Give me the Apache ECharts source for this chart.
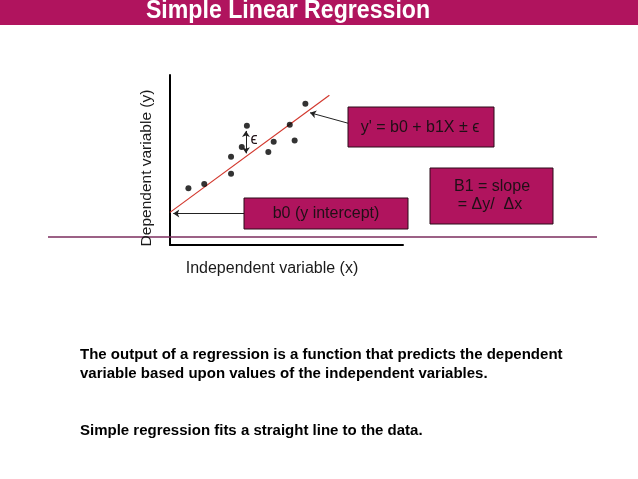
<!DOCTYPE html>
<html>
<head>
<meta charset="utf-8">
<script src="https://cdn.jsdelivr.net/npm/echarts@6/dist/echarts.min.js"></script>
<style>
html,body{margin:0;padding:0;background:#fff;}
#main{width:638px;height:479px;}
</style>
</head>
<body>
<div id="main"></div>
<script>
// Observations (arbitrary units, axis 0..10)
const pointsX = [0.79, 1.47, 2.62, 2.62, 3.08, 3.30, 4.22, 4.45, 5.14, 5.35, 5.81];
const pointsY = [3.34, 3.59, 5.19, 4.19, 5.76, 7.02, 5.47, 6.08, 7.08, 6.14, 8.31];
// Regression line endpoints
const lineX = [0.0, 6.84];
const lineY = [1.92, 8.81];
// Residual (epsilon) arrow
const epsX = 3.26;
const epsY = [6.71, 5.39];
// Annotation arrows [from, to]
const arrowB0 = [[3.22, 1.86], [0.14, 1.86]];
const arrowEq = [[7.65, 7.16], [6.01, 7.78]];

const MAGENTA = '#B0145E';
const FONT = '"Liberation Sans", Arial, Helvetica, sans-serif';

const chart = echarts.init(document.getElementById('main'), null, {renderer: 'canvas'});

const scatterData = pointsX.map((x, i) => [x, pointsY[i]]);
const lineData = lineX.map((x, i) => [x, lineY[i]]);

const axisCommon = {
  type: 'value', min: 0, max: 10,
  axisLine: {show: true, lineStyle: {color: '#000', width: 2}},
  axisTick: {show: false}, axisLabel: {show: false}, splitLine: {show: false}
};

function box(x, y, w, h) {
  return {type: 'rect', z: 10, shape: {x: x, y: y, width: w, height: h},
    style: {fill: MAGENTA, stroke: '#2a0a18', lineWidth: 1}};
}
function txt(t, x, y, size, opts) {
  return {type: 'text', z: 11, x: x, y: y,
    style: Object.assign({text: t, x: 0, y: 0, fill: '#1f1016',
      font: size + 'px ' + FONT, textAlign: 'center', textVerticalAlign: 'middle'}, opts || {})};
}

const option = {
  animation: false,
  backgroundColor: '#fff',
  grid: {left: 170, top: 75, width: 233, height: 170},
  xAxis: axisCommon,
  yAxis: axisCommon,
  series: [
    {
      type: 'line', data: lineData, symbol: 'none', silent: true,
      lineStyle: {color: '#D2382E', width: 1.2}, z: 2
    },
    {
      type: 'scatter', data: scatterData, symbol: 'circle', symbolSize: 6,
      itemStyle: {color: '#000'}, silent: true, z: 3,
      markLine: {
        silent: true, animation: false,
        symbolSize: 6,
        label: {show: false},
        lineStyle: {type: 'solid', color: '#222', width: 1},
        data: [
          [{coord: [epsX, epsY[0]], symbol: 'arrow'}, {coord: [epsX, epsY[1]], symbol: 'arrow'}],
          [{coord: arrowB0[0], symbol: 'none'}, {coord: arrowB0[1], symbol: 'arrow'}],
          [{coord: arrowEq[0], symbol: 'none'}, {coord: arrowEq[1], symbol: 'arrow'}]
        ]
      }
    }
  ],
  graphic: [
    {type: 'rect', z: 10, shape: {x: 0, y: 0, width: 638, height: 25}, style: {fill: MAGENTA}},
    {type: 'text', z: 11, x: 288, y: 11, scaleX: 0.89,
      style: {text: 'Simple Linear Regression', x: 0, y: 0, fill: '#fff',
        font: 'bold 26px ' + FONT, textAlign: 'center', textVerticalAlign: 'middle'}},
    {type: 'line', z: 1, shape: {x1: 48, y1: 237, x2: 597, y2: 237},
      style: {stroke: '#7B2D5E', lineWidth: 1.5}},
    box(348, 107, 146, 40),
    txt("y' = b0 + b1X \u00B1 \u03F5", 420, 128, 16),
    box(244, 198, 164, 31),
    txt('b0 (y intercept)', 326, 214, 16),
    box(430, 168, 123, 56),
    txt('B1 = slope', 492, 187, 16),
    txt('= \u0394y/  \u0394x', 490, 205, 16),
    txt('\u03F5', 254, 140, 16),
    txt('Independent variable (x)', 272, 269, 16, {fill: '#1a1a1a'}),
    {type: 'text', z: 11, x: 147, y: 168, rotation: Math.PI / 2,
      style: {text: 'Dependent variable (y)', x: 0, y: 0, fill: '#1a1a1a',
        font: '15.5px ' + FONT, textAlign: 'center', textVerticalAlign: 'middle'}},
    txt('The output of a regression is a function that predicts the dependent', 80, 355, 15,
      {textAlign: 'left', fill: '#000', font: 'bold 15px ' + FONT}),
    txt('variable based upon values of the independent variables.', 80, 374, 15,
      {textAlign: 'left', fill: '#000', font: 'bold 15px ' + FONT}),
    txt('Simple regression fits a straight line to the data.', 80, 431, 15,
      {textAlign: 'left', fill: '#000', font: 'bold 15px ' + FONT})
  ]
};
chart.setOption(option);
</script>
</body>
</html>
